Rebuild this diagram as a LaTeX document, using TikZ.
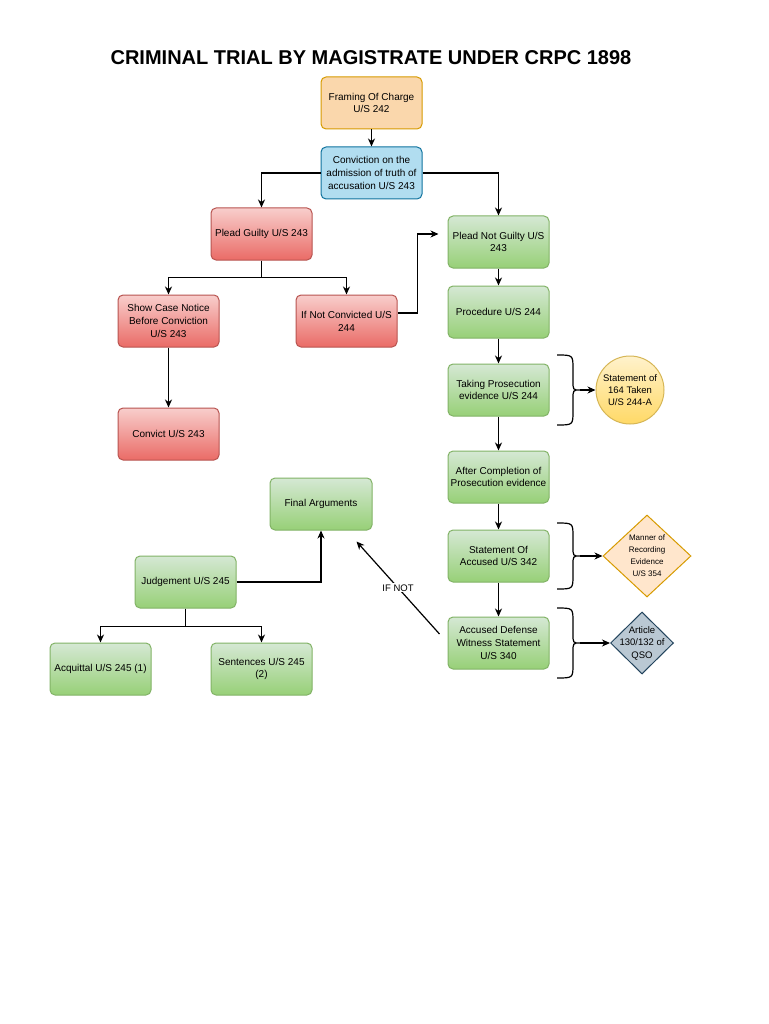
\documentclass[tikz,border=0pt]{standalone}
\usepackage{fontspec}
\setmainfont{Liberation Sans}
\usepackage{tikz}
\usetikzlibrary{arrows.meta,shapes.geometric,positioning}

\definecolor{orangefill}{HTML}{FAD7AC}
\definecolor{orangeline}{HTML}{D79B00}
\definecolor{orangelight}{HTML}{FFE6CC}
\definecolor{bluefill}{HTML}{B1DDF0}
\definecolor{blueline}{HTML}{10739E}
\definecolor{redtop}{HTML}{F8CECC}
\definecolor{redbot}{HTML}{EA6B66}
\definecolor{redline}{HTML}{B85450}
\definecolor{greentop}{HTML}{D5E8D4}
\definecolor{greenbot}{HTML}{97D077}
\definecolor{greenline}{HTML}{82B366}
\definecolor{yellowtop}{HTML}{FFF2CC}
\definecolor{yellowbot}{HTML}{FFD966}
\definecolor{yellowline}{HTML}{D6B656}
\definecolor{slatefill}{HTML}{BAC8D3}
\definecolor{slateline}{HTML}{23445D}

\begin{document}
\begin{tikzpicture}[x=1pt, y=-1pt,
  box/.style = {draw, rounded corners=5pt, minimum width=101pt, minimum height=52pt,
    align=center, inner sep=2pt, line width=1pt, font=\fontsize{10}{12.8}\selectfont},
  redbox/.style = {box, draw=redline, top color=redtop, bottom color=redbot},
  greenbox/.style = {box, draw=greenline, top color=greentop, bottom color=greenbot},
  link/.style = {-{Stealth[length=8pt,width=7pt,inset=2.5pt]}, line width=1.2pt},
  side/.style = {inner sep=0pt, line width=1pt}]
\useasboundingbox (0,0) rectangle (768,1024);
\fill[white] (0,0) rectangle (768,1024);

\node[font=\bfseries\fontsize{20}{24}\selectfont] (title) at (371,58) {CRIMINAL TRIAL BY MAGISTRATE UNDER CRPC 1898};

% main column
\node[box, draw=orangeline, fill=orangefill] (frame) at (371.5,103) {Framing Of Charge\\U/S 242};
\node[box, draw=blueline, fill=bluefill] (conv) at (371.5,173) {Conviction on the\\admission of truth of\\accusation U/S 243};
\node[redbox] (guilty) at (261.5,234) {Plead Guilty U/S 243};
\node[greenbox] (notguilty) at (498.5,242) {Plead Not Guilty U/S\\243};
\node[redbox] (notice) at (168.5,321) {Show Case Notice\\Before Conviction\\U/S 243};
\node[redbox] (notconv) at (346.5,321) {If Not Convicted U/S\\244};
\node[greenbox] (proc) at (498.5,312) {Procedure U/S 244};
\node[greenbox] (prosec) at (498.5,390) {Taking Prosecution\\evidence U/S 244};
\node[redbox] (convict) at (168.5,434) {Convict U/S 243};
\node[greenbox] (after) at (498.5,477) {After Completion of\\Prosecution evidence};
\node[greenbox, minimum width=102pt] (final) at (321,504) {Final Arguments};
\node[greenbox] (accused) at (498.5,556) {Statement Of\\Accused U/S 342};
\node[greenbox] (judge) at (185.5,582) {Judgement U/S 245};
\node[greenbox] (defense) at (498.5,643) {Accused Defense\\Witness Statement\\U/S 340};
\node[greenbox] (acquit) at (100.5,669) {Acquittal U/S 245 (1)};
\node[greenbox] (sentence) at (261.5,669) {Sentences U/S 245\\(2)};

% side notes
\node[circle, side, draw=yellowline, top color=yellowtop, bottom color=yellowbot, minimum size=68pt,
  align=center, font=\fontsize{9.5}{12}\selectfont] (s164) at (630,390) {Statement of\\164 Taken\\U/S 244-A};
\node[diamond, side, draw=orangeline, fill=orangelight, minimum width=88pt, minimum height=82pt,
  label={[align=center, font=\fontsize{8}{12}\selectfont]center:Manner of\\Recording\\Evidence\\U/S 354}] (manner) at (647,556) {};
\node[diamond, side, draw=slateline, fill=slatefill, minimum width=63pt, minimum height=62pt,
  label={[align=center, font=\fontsize{9.5}{12.5}\selectfont]center:Article\\130/132 of\\QSO}] (article) at (642,643) {};

% braces
\foreach \t/\m/\b/\n in {355/390/425/b1, 523/556/589/b2, 608/643/678/b3} {
  \draw[line width=1.2pt] (557,\t) .. controls (573,\t) .. (573,\t+14) -- (573,\m-9)
    .. controls (573,\m) .. (580,\m) .. controls (573,\m) .. (573,\m+9)
    -- (573,\b-14) .. controls (573,\b) .. (557,\b);
  \coordinate (\n) at (580,\m);
}

% connectors
\draw[link] (frame) -- (conv);
\draw[link] (conv.west) -| (guilty.north);
\draw[link] (conv.east) -| (notguilty.north);
\draw[link] (guilty.south) -- ++(0,17) -| (notice.north);
\draw[link] (guilty.south) -- ++(0,17) -| (notconv.north);
\draw[link] (notice) -- (convict);
\draw[link] ([yshift=8pt]notconv.east) -- ++(20,0) |- ([xshift=-9pt,yshift=8pt]notguilty.west);
\draw[link] (notguilty) -- (proc);
\draw[link] (proc) -- (prosec);
\draw[link] (prosec) -- (after);
\draw[link] (after) -- (accused);
\draw[link] (accused) -- (defense);
\draw[link] (b1) -- (s164);
\draw[link] (b2) -- (manner.west);
\draw[link] (b3) -- (article.west);
\draw[link] ([xshift=-8pt,yshift=9pt]defense.west) -- ([xshift=-16pt,yshift=-11pt]final.south east)
  node[midway, fill=white, inner sep=1pt, font=\fontsize{9.5}{11}\selectfont] {IF NOT};
\draw[link] (judge.east) -| (final.south);
\draw[link] (judge.south) -- ++(0,18) -| (acquit.north);
\draw[link] (judge.south) -- ++(0,18) -| (sentence.north);
\end{tikzpicture}
\end{document}
